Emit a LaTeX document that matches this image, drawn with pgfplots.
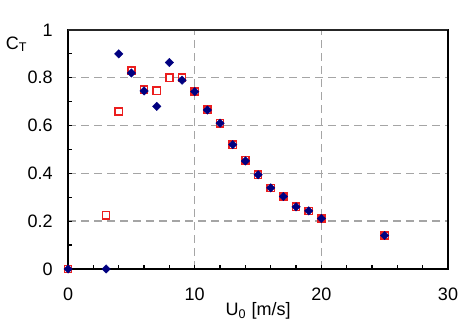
\documentclass[border=0pt]{standalone}
\usepackage{pgfplots}
\pgfplotsset{compat=1.18}
\usepackage{fontspec}
\setmainfont{Liberation Sans}
\definecolor{navyb}{RGB}{0,0,128}
\definecolor{redsq}{RGB}{235,30,30}
\definecolor{gridg}{RGB}{165,165,165}
\begin{document}
\fontsize{9bp}{11bp}\selectfont
\begin{tikzpicture}
\begin{axis}[
  at={(0,0)}, anchor=origin,
  scale only axis, width=190bp, height=119.5bp,
  xmin=0, xmax=30, ymin=0, ymax=1,
  xtick={0,10,20,30}, ytick={0,0.2,0.4,0.6,0.8,1},
  minor x tick num=4, minor y tick num=1,
  xtick pos=bottom, ytick pos=left, tick align=inside,
  major tick length=2bp, minor tick length=2bp,
  every tick/.style={black, line width=0.6bp},
  axis line style={black, line width=1bp},
  grid=major,
  major grid style={gridg, line width=0.7bp, dash pattern=on 4bp off 2.5bp},
  /pgf/number format/assume math mode=true,
  ticklabel style={font=\fontsize{9bp}{11bp}\selectfont},
  yticklabel style={xshift=-4.5bp},
  xticklabel style={yshift=-6.5bp},
  xlabel={U\textsubscript{0} [m/s]},
  xlabel style={at={(axis description cs:0.5,-0.175)}, anchor=center, font=\fontsize{9bp}{11bp}\selectfont},
  ylabel={C\textsubscript{T}},
  ylabel style={at={(axis description cs:-0.135,0.94)}, rotate=-90, anchor=center, font=\fontsize{9bp}{11bp}\selectfont},
  clip=false,
]
\coordinate (o) at (rel axis cs:0,0);
\coordinate (tr) at (rel axis cs:1,1);
\addplot[only marks, mark=square, mark size=1.8bp, mark options={draw=redsq, line width=0.75bp, fill=white}] coordinates {
(0,0) (3,0.225) (4,0.659) (5,0.829) (6,0.75) (7,0.746) (8,0.80) (9,0.80) (10,0.743) (11,0.666) (12,0.61) (13,0.52) (14,0.455) (15,0.394) (16,0.339) (17,0.303) (18,0.26) (19,0.243) (20,0.211) (25,0.14)
};
\addplot[only marks, mark=square*, mark size=1.5bp, mark options={rotate=45, draw=navyb, fill=navyb, line width=0.2bp}] coordinates {
(0,0) (3,0) (4,0.90) (5,0.82) (6,0.745) (7,0.68) (8,0.864) (9,0.79) (10,0.742) (11,0.665) (12,0.61) (13,0.52) (14,0.452) (15,0.394) (16,0.339) (17,0.303) (18,0.26) (19,0.243) (20,0.211) (25,0.14)
};
\end{axis}
\draw[black!85, line width=0.8bp] (o |- tr) -- (tr);
\draw[black, line width=1.2bp] (o -| tr) -- (tr);
\path ([shift={(-34bp,-31.5bp)}]o) rectangle ([shift={(203bp,134.5bp)}]o);
\end{tikzpicture}
\end{document}
